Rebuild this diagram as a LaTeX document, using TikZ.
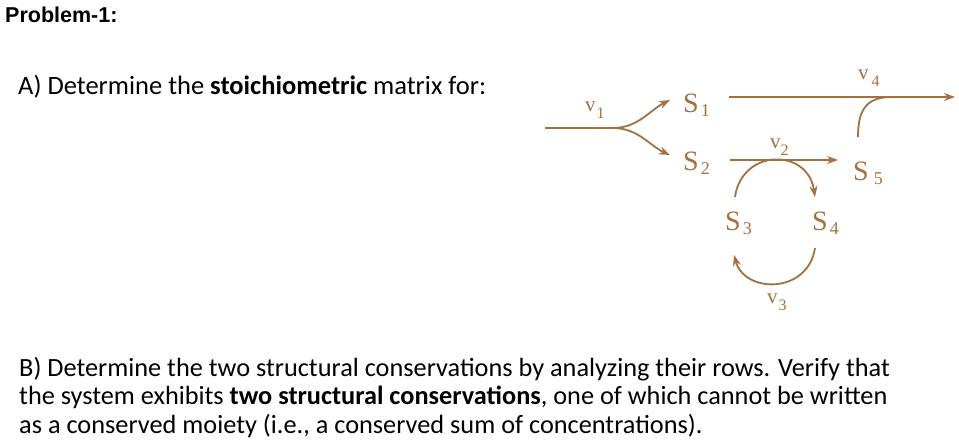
\documentclass[tikz,border=0pt]{standalone}
\usepackage{fontspec}
\setmainfont{Carlito}
\newfontfamily\headfont{Liberation Sans}
\newfontfamily\diagfont{Liberation Serif}
\usetikzlibrary{arrows.meta,positioning}
\definecolor{netbrown}{RGB}{163,112,64}
% lowered index for the species and the rates
\newcommand{\spc}[2]{S\hspace{#1}\raisebox{-4pt}{\fontsize{18}{18}\selectfont #2}}
\newcommand{\rt}[2]{v\hspace{#1}\raisebox{-7pt}{\fontsize{16}{16}\selectfont #2}}

\begin{document}
\begin{tikzpicture}[x=1pt,y=-1pt,
        species/.style={anchor=base west,inner sep=0pt,text=netbrown,font=\diagfont\fontsize{28}{28}\selectfont},
        rate/.style={anchor=base west,inner sep=0pt,text=netbrown,font=\diagfont\fontsize{21}{21}\selectfont},
        link/.style={draw=netbrown,line width=1.8pt},
        flux/.style={link,-{Stealth[length=11pt,width=8pt]}}]
\useasboundingbox (0,0) rectangle (959,442);

% the texts
\node[anchor=base west,inner sep=0pt,font=\headfont\bfseries\fontsize{21.5}{21.5}\selectfont] (title) at (5,22) {Problem-1:};
\node[anchor=base west,inner sep=0pt,font=\fontsize{26.5}{26.5}\selectfont] (partA) at (18,94) {A) Determine the \textbf{stoichiometric} matrix for:};
\node[anchor=base west,inner sep=0pt,align=left,font=\fontsize{26.3}{28.5}\selectfont] (partB) at (19,433)% base = last line
 {B) Determine the two structural conservations by analyzing their rows. Verify that\\
  the system exhibits \textbf{two structural conservations}, one of which cannot be written\\
  as a conserved moiety (i.e., a conserved sum of concentrations).};

% the species
\node[species] (S1) at (683,112) {\spc{2pt}{1}};
\node[species] (S2) at (683,170) {\spc{2pt}{2}};
\node[species] (S3) at (725,230) {\spc{2pt}{3}};
\node[species] (S4) at (812,230) {\spc{2pt}{4}};
\node[species] (S5) at (853,180) {\spc{5pt}{5}};

% the rates
\node[rate] (v1) at (585,111) {\rt{1pt}{1}};
\node[rate] (v2) at (770,148) {\rt{0pt}{2}};
\node[rate] (v3) at (767,303) {\rt{1pt}{3}};
\node[rate] (v4) at (858,79) {\rt{3pt}{4}};

% free ends
\coordinate (in) at (545,128);
\coordinate (fork) at (613,128);
\coordinate (out) at (955,97);
\coordinate (merge) at (892,97);

% v1 splits into S1 and S2
\draw[link] (in) -- (fork);
\draw[flux] (fork) .. controls (638,128) and (650,110) .. ([shift={(-13,-12)}]S1.base west);
\draw[flux] (fork) .. controls (638,128) and (650,146) .. ([shift={(-13,-15)}]S2.base west);
% v4 leaves S1 and S5
\draw[flux] ([shift={(46,-15)}]S1.base west) -- (out);
\draw[link] ([shift={(5,-43)}]S5.base west) .. controls ([shift={(5,-70)}]S5.base west) and (866,97) .. (merge);
% v2
\draw[flux] ([shift={(47,-10)}]S2.base west) -- ([shift={(-15,-20)}]S5.base west);
\draw[flux] ([shift={(10,-33)}]S3.base west) .. controls (742,148) and (808,148) .. ([shift={(3,-33)}]S4.base west);
% v3
\draw[flux] ([shift={(3,18)}]S4.base west) .. controls (808,294) and (745,294) .. ([shift={(9,25)}]S3.base west);
\end{tikzpicture}
\end{document}
